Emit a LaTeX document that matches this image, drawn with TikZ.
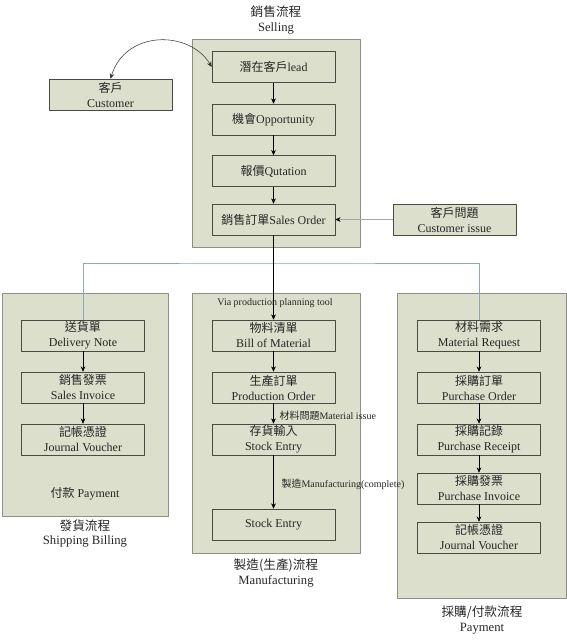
\documentclass[tikz,border=0pt]{standalone}
\usepackage{fontspec}
\setmainfont{Liberation Serif}
\newfontfamily\cjk{Noto Sans CJK TC}
\usetikzlibrary{arrows.meta}
\definecolor{olivebg}{HTML}{DCDFCB}
\definecolor{boxline}{HTML}{4A4A44}
\definecolor{panelline}{HTML}{8E8E86}
\definecolor{linkblue}{HTML}{8CA6C4}
\begin{document}
\begin{tikzpicture}[x=0.75pt,y=-0.75pt,>={Stealth[length=4pt,width=3.5pt]},line join=round,
  font=\fontsize{9}{11.25}\selectfont,text=black!85,
  panel/.style={fill=olivebg,draw=panelline},
  box/.style={draw=boxline,fill=olivebg,align=center,inner sep=1pt,
    minimum width=92.25pt,minimum height=23.25pt},
  tag/.style={font=\fontsize{7.5}{9}\selectfont,inner sep=1pt},
  title/.style={align=center,font=\fontsize{9.5}{11}\selectfont}]
\useasboundingbox (0,0) rectangle (567,640);
% bang nen
\draw[panel] (192,39) rectangle (360,247);
\draw[panel] (2,293) rectangle (168,516);
\draw[panel] (192,293) rectangle (360,553);
\draw[panel] (397,293) rectangle (566,598);
% Selling
\node[title] (tsell) at (276,20) {{\cjk 銷售流程}\\Selling};
\node[box] (lead) at (273.5,67) {{\cjk 潛在客戶}lead};
\node[box] (opp) at (273.5,119.5) {{\cjk 機會}Opportunity};
\node[box] (quot) at (273.5,171) {{\cjk 報價}Qutation};
\node[box] (so) at (273.5,219.5) {{\cjk 銷售訂單}Sales Order};
\node[box] (cust) at (110.5,94.5) {{\cjk 客戶}\\Customer};
\node[box] (issue) at (454.5,219.5) {{\cjk 客戶問題}\\Customer issue};
% Shipping Billing
\node[box] (dn) at (83,335.5) {{\cjk 送貨單}\\Delivery Note};
\node[box] (si) at (83,387.5) {{\cjk 銷售發票}\\Sales Invoice};
\node[box] (jvs) at (83,439.5) {{\cjk 記帳憑證}\\Journal Voucher};
\node (pay) at (85,494) {{\cjk 付款} Payment};
\node[title] (tship) at (85,533.5) {{\cjk 發貨流程}\\Shipping Billing};
% Manufacturing
\node[tag] (via) at (275,303) {Via production planning tool};
\node[box] (bom) at (273.5,335.5) {{\cjk 物料清單}\\Bill of Material};
\node[box] (prod) at (273.5,387.5) {{\cjk 生產訂單}\\Production Order};
\node[box] (se) at (273.5,439.5) {{\cjk 存貨輸入}\\Stock Entry};
\node[box] (sedone) at (273.5,524.5) {Stock Entry};
\node[tag,anchor=west] (missue) at (278,416) {{\cjk 材料問題}Material issue};
\node[tag,anchor=west] (mdone) at (280,484) {{\cjk 製造}Manufacturing(complete)};
\node[title] (tmfg) at (276,573) {{\cjk 製造(生產)流程}\\Manufacturing};
% Purchase / Payment
\node[box] (mr) at (479,335.5) {{\cjk 材料需求}\\Material Request};
\node[box] (pur) at (479,387.5) {{\cjk 採購訂單}\\Purchase Order};
\node[box] (pr) at (479,439.5) {{\cjk 採購記錄}\\Purchase Receipt};
\node[box] (pinv) at (479,488.5) {{\cjk 採購發票}\\Purchase Invoice};
\node[box] (jvp) at (479,537.5) {{\cjk 記帳憑證}\\Journal Voucher};
\node[title] (tbuy) at (482,620) {{\cjk 採購/付款流程}\\Payment};
% noi
\coordinate (split) at (273.5,263);
\draw[linkblue] (dn.north) |- (split) -| (mr.north);
\draw[<->,black!80] (lead.west) .. controls +(-22,-37) and +(15,-49) .. (cust.north);
\draw[->] (lead)--(opp);
\draw[->] (opp)--(quot);
\draw[->] (quot)--(so);
\draw[-{Stealth[length=4pt,width=3.5pt,black]},gray!70] (issue)--(so);
\draw[->] (so)--(bom);
\draw[->] (dn)--(si);
\draw[->] (si)--(jvs);
\draw[->] (bom)--(prod);
\draw[->] (prod)--(se);
\draw[->] (se)--(sedone);
\draw[->] (mr)--(pur);
\draw[->] (pur)--(pr);
\draw[->] (pr)--(pinv);
\draw[->] (pinv)--(jvp);
\end{tikzpicture}
\end{document}
